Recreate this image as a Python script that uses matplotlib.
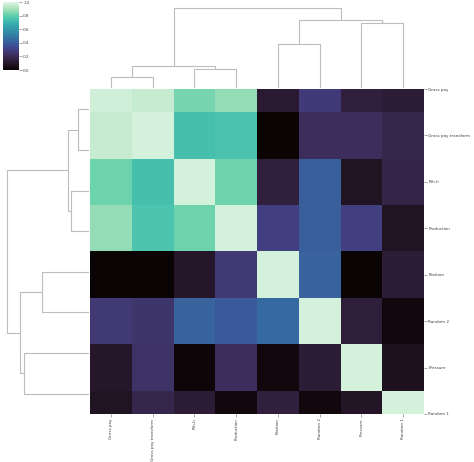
import numpy as np
import pandas as pd
import matplotlib
matplotlib.use('Agg')
import matplotlib.pyplot as plt
import seaborn as sns

# - Variables (in the order they appear on the chart)
labels = ['Gross pay', 'Gross pay transform', 'Pth-h', 'Production',
          'Position', 'Random 2', 'Pressure', 'Random 1']

# - Score matrix, one list per row
gross_pay = [0.97, 0.95, 0.83, 0.87, 0.12, 0.28, 0.15, 0.13]
gross_pay_transform = [0.95, 0.98, 0.74, 0.75, 0.00, 0.22, 0.22, 0.18]
pth_h = [0.82, 0.74, 0.98, 0.82, 0.15, 0.41, 0.08, 0.17]
production = [0.87, 0.76, 0.82, 0.98, 0.30, 0.41, 0.30, 0.08]
position = [0.00, 0.00, 0.10, 0.27, 0.98, 0.42, 0.00, 0.13]
random_2 = [0.27, 0.25, 0.42, 0.39, 0.44, 0.98, 0.14, 0.02]
pressure = [0.10, 0.24, 0.01, 0.22, 0.02, 0.13, 0.98, 0.07]
random_1 = [0.08, 0.18, 0.13, 0.02, 0.15, 0.02, 0.09, 0.98]

rows = [gross_pay, gross_pay_transform, pth_h, production,
        position, random_2, pressure, random_1]
df = pd.DataFrame(rows, index=labels, columns=labels)

W, H = 474, 462

g = sns.clustermap(df, cmap='mako', vmin=0, vmax=1,
                   figsize=(W / 100, H / 100),
                   tree_kws={'colors': '#bdbdbd', 'linewidths': 0.8})

# - Place the panels (pixel boxes of the reference)
g.ax_heatmap.set_position([90 / W, 1 - 414 / H, 334 / W, 325 / H])
g.ax_row_dendrogram.set_position([3 / W, 1 - 414 / H, 86 / W, 325 / H])
g.ax_col_dendrogram.set_position([90 / W, 1 - 88 / H, 334 / W, 84 / H])
g.ax_cbar.set_position([3 / W, 1 - 70 / H, 16 / W, 68 / H])

# - Heatmap: half rows cut at top and bottom
hm = g.ax_heatmap
hm.set_ylim(len(labels) - 0.5, 0.5)
hm.set_xlabel('')
hm.set_ylabel('')
hm.set_xticks(np.arange(len(labels)) + 0.5)
hm.set_xticklabels(labels, rotation=90, fontsize=3.0, color='#444444')
hm.set_yticks(np.arange(len(labels)) + 0.5)
hm.set_yticklabels(labels, rotation=0, fontsize=3.0, color='#444444')
hm.tick_params(axis='both', length=2.2, width=0.4, color='#666666', pad=1)

# - Colorbar
g.ax_cbar.tick_params(labelsize=3.0, length=2, width=0.4, pad=1,
                      labelcolor='#444444', color='#666666')
g.ax_cbar.set_yticks([0, 0.2, 0.4, 0.6, 0.8, 1.0])

plt.savefig('out.png', dpi=100)
